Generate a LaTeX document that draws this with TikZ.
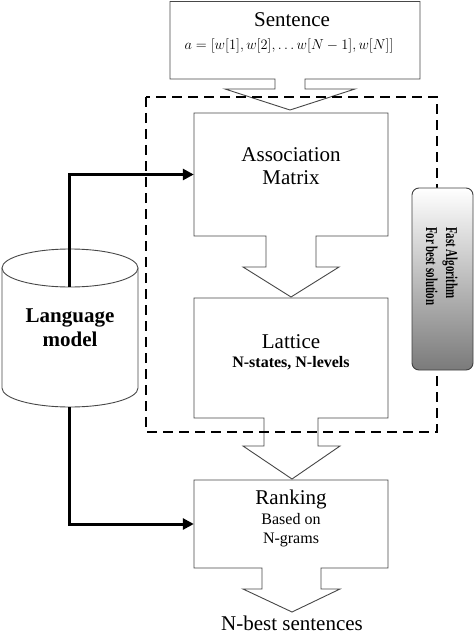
\documentclass[tikz,border=0pt]{standalone}
\usepackage{fontspec}
\setmainfont{Liberation Serif}
\usetikzlibrary{arrows.meta}
\tikzset{
  boxline/.style={draw=black!72, line width=0.9bp, fill=white, line join=miter},
  area/.style={draw=none, inner sep=0pt},
  title/.style={font=\fontsize{21bp}{25bp}\selectfont, anchor=base, inner sep=0pt},
  boldtitle/.style={font=\fontsize{21bp}{25bp}\selectfont\bfseries, anchor=base, inner sep=0pt},
  subtext/.style={font=\fontsize{16bp}{19bp}\selectfont, anchor=base, inner sep=0pt},
  boldsub/.style={font=\fontsize{16bp}{19bp}\selectfont\bfseries, anchor=base, inner sep=0pt},
  dashbox/.style={draw=black, line width=2.6bp, dash pattern=on 10bp off 6bp},
  thickarrow/.style={draw=black, line width=3bp, -{Triangle[length=11bp,width=11bp]}},
  fastbox/.style={draw=black!75, line width=0.9bp, rounded corners=7bp, top color=white, bottom color=black!52, inner sep=0pt}
}
\begin{document}
\begin{tikzpicture}[x=1bp,y=-1bp]
\useasboundingbox (0,0) rectangle (474,635);

% invisible areas of the boxes (for connectors)
\node[area, minimum width=250bp, minimum height=77bp] (sent) at (295,40.5) {};
\node[area, minimum width=194bp, minimum height=123bp] (assoc) at (291,174.5) {};
\node[area, minimum width=194bp, minimum height=120bp] (latt) at (291,358) {};
\node[area, minimum width=194bp, minimum height=88bp] (rank) at (291,524) {};

% callout boxes
\draw[boxline] (170,1.5) -- (420,1.5) -- (420,79) -- (305,79) -- (305,89) -- (355,89) -- (290,110) -- (225,89) -- (275,89) -- (275,79) -- (170,79) -- cycle;
\draw[boxline] (194,113) -- (388,113) -- (388,236) -- (316,236) -- (316,267) -- (339,267) -- (291,297) -- (243,267) -- (266,267) -- (266,236) -- (194,236) -- cycle;
\draw[boxline] (194,298) -- (388,298) -- (388,418) -- (318,418) -- (318,446) -- (340,446) -- (292,479) -- (243,446) -- (264,446) -- (264,418) -- (194,418) -- cycle;
\draw[boxline] (194,480) -- (388,480) -- (388,568) -- (321,568) -- (321,589) -- (340,589) -- (292,612) -- (243,589) -- (262,589) -- (262,568) -- (194,568) -- cycle;

% texts
\node[title] (sentT) at (292,27) {Sentence};
\node[anchor=base, inner sep=0pt, font=\fontsize{14.5bp}{17bp}\selectfont] (sentF) at (289,50) {$a=\left[w[1],w[2],\ldots w[N-1],w[N]\right]$};
\node[title] (assocT1) at (291,162) {Association};
\node[title] (assocT2) at (291,185) {Matrix};
\node[title] (lattT) at (291,348) {Lattice};
\node[boldsub] (lattS) at (291,367) {N-states, N-levels};
\node[title] (rankT) at (291,504) {Ranking};
\node[subtext] (rankS1) at (291,524) {Based on};
\node[subtext] (rankS2) at (291,543) {N-grams};
\node[title] (out) at (292,630.5) {N-best sentences};

% dashed region
\draw[dashbox] (146,97) rectangle (437,432);

% fast algorithm box
\node[fastbox, minimum width=61bp, minimum height=182bp] (fast) at (442.5,279) {};
\node[inner sep=0pt, font=\fontsize{16.5bp}{20bp}\selectfont\bfseries, anchor=north] (fastT) at (440,227)
  {\rotatebox{-90}{\scalebox{0.66}[1]{\begin{tabular}{@{}l@{}}Fast Algorithm\\For best solution\end{tabular}}}};

% language model cylinder
\draw[boxline] (2,268) -- (2,388) arc[start angle=180, end angle=0, x radius=68, y radius=19] -- (138,268) -- cycle;
\draw[boxline] (70,268) ellipse[x radius=68, y radius=19];
\node[boldtitle] (lmT1) at (70,322) {Language};
\node[boldtitle] (lmT2) at (70,346) {model};
\coordinate (lmtop) at (69,287);
\coordinate (lmbot) at (69,407);

% connectors
\draw[thickarrow] (lmtop) |- (assoc.west);
\draw[thickarrow] (lmbot) |- (rank.west);
\end{tikzpicture}
\end{document}
